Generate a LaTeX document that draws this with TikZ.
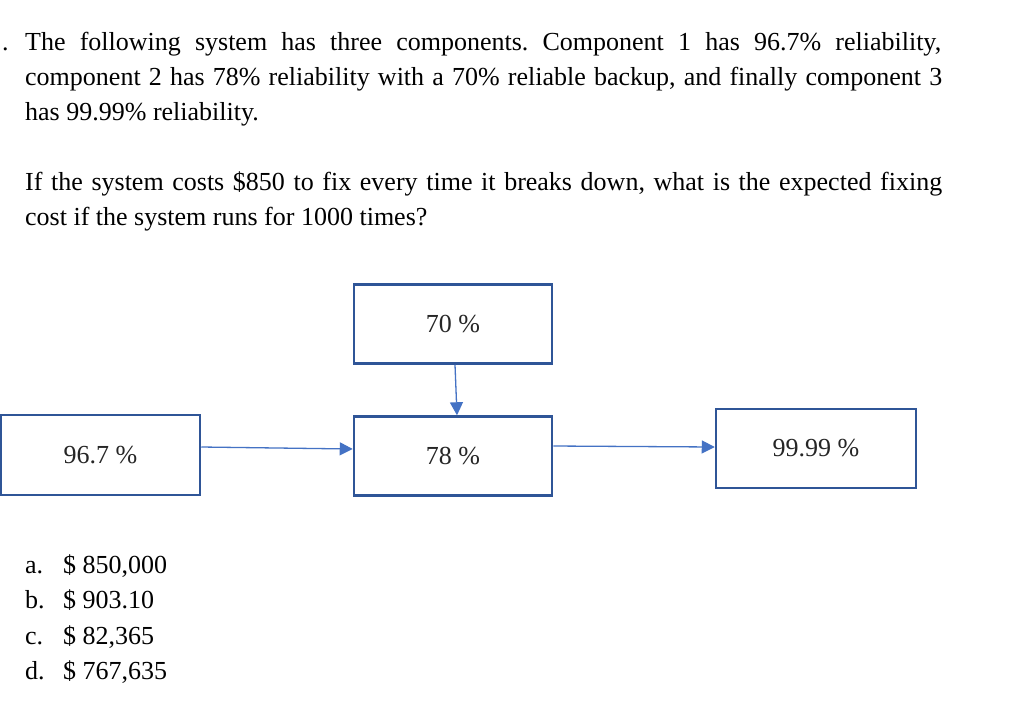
\documentclass[tikz,border=0pt]{standalone}
\usepackage{fontspec}
\setmainfont{Liberation Serif}
\usetikzlibrary{arrows.meta}
\definecolor{boxblue}{HTML}{2F5597}
\definecolor{arrowblue}{HTML}{4472C4}
\definecolor{boxtext}{HTML}{262626}
\frenchspacing
\begin{document}
\begin{tikzpicture}[x=1pt,y=-1pt,
  body/.style={anchor=base west,inner sep=0pt,font=\fontsize{26}{35}\selectfont},
  blk/.style={draw=boxblue,line width=2.5pt,fill=white,inner sep=0pt,
    text=boxtext,font=\fontsize{26}{30}\selectfont},
  conn/.style={draw=arrowblue,line width=1.3pt,-{Triangle[length=13pt,width=13pt]}}]
\useasboundingbox[fill=white] (0,0) rectangle (1024,710);
% question text
\node[body] (dot) at (2,50) {.};
\node[body] (q1) at (25,50) {\makebox[916pt][s]{The following system has three components. Component 1 has 96.7\% reliability,}};
\node[body] (q2) at (25,85) {\makebox[917pt][s]{component 2 has 78\% reliability with a 70\% reliable backup, and finally component 3}};
\node[body] (q3) at (25,120) {has 99.99\% reliability.};
\node[body] (q4) at (25,190) {\makebox[917pt][s]{If the system costs \$850 to fix every time it breaks down, what is the expected fixing}};
\node[body] (q5) at (25,225) {cost if the system runs for 1000 times?};
% boxes
\node[blk,minimum width=199pt,minimum height=80pt] (A) at (100.5,455) {96.7 \%};
\node[blk,minimum width=198pt,minimum height=79pt] (B) at (453,324) {70 \%};
\node[blk,minimum width=198pt,minimum height=79pt] (C) at (453,456) {78 \%};
\node[blk,minimum width=200pt,minimum height=79pt] (D) at (816,448.5) {99.99 \%};
% connectors
\draw[conn] ([yshift=8pt]A.east) -- ([yshift=7pt]C.west);
\draw[conn] ([xshift=2pt]B.south) -- ([xshift=4pt]C.north);
\draw[conn] ([yshift=10pt]C.east) -- ([yshift=1.5pt]D.west);
% answers
\node[body] (la) at (25,573) {a.};
\node[body] (aa) at (63,573) {\$ 850,000};
\node[body] (lb) at (25,608) {b.};
\node[body] (ab) at (63,608) {\$ 903.10};
\node[body] (lc) at (25,644) {c.};
\node[body] (ac) at (63,644) {\$ 82,365};
\node[body] (ld) at (25,679) {d.};
\node[body] (ad) at (63,679) {\$ 767,635};
\end{tikzpicture}
\end{document}
